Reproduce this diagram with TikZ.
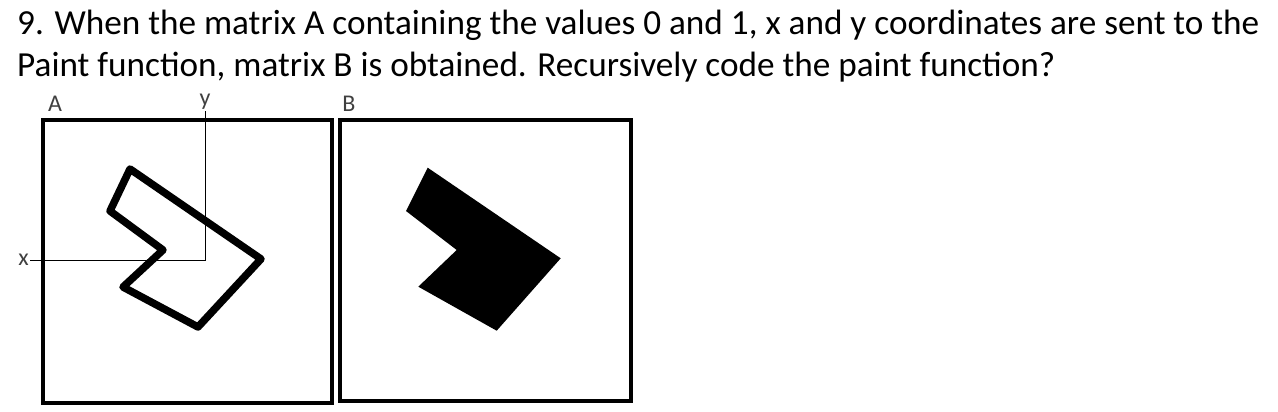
\documentclass[tikz,border=0pt]{standalone}
\usepackage{fontspec}
\setmainfont{Carlito}
\usetikzlibrary{positioning}
\tikzstyle{question} = [draw=none, anchor=base west, inner sep=0pt, font=\fontsize{35.2}{40}\selectfont]
\tikzstyle{tag} = [draw=none, inner sep=1pt, text=black!75, font=\fontsize{24}{26}\selectfont]
\tikzstyle{matrixbox} = [draw, line width=4pt, rectangle, inner sep=0pt]
\tikzstyle{axis} = [line width=0.8pt]

\begin{document}
\begin{tikzpicture}[x=1pt,y=-1pt]
    \useasboundingbox (0,0) rectangle (1278,412);

    \node [question, name = q1] at (17,34.5) {9. When the matrix A containing the values 0 and 1, x and y coordinates are sent to the};
    \node [question, name = q2] at (17,76.5) {Paint function, matrix B is obtained. Recursively code the paint function?};

    \node [matrixbox, minimum width=289pt, minimum height=283pt, name = boxA] at (187.5,261.5) {};
    \node [matrixbox, minimum width=291pt, minimum height=281pt, name = boxB] at (485.5,260.5) {};

    \node [tag, name = labA] at (55,104) {A};
    \node [tag, name = labB] at (349,104) {B};

    % shape in A, outline only
    \draw [line width=7.5pt, line join=round]
        (130,169) -- (261,259) -- (198,327) -- (123,287) -- (163,250) -- (110,211) -- cycle;

    % shape in B, painted
    \fill [line join=round]
        (427.7,167.7) -- (560.7,258.3) -- (496.7,330.7) -- (418.3,286.7) -- (456.7,250) -- (406,211) -- cycle;

    % start point
    \coordinate (org) at (205,260);
    \node [tag, anchor=east, name = labx] at (30,260) {x};
    \node [tag, anchor=south, name = laby] at (205,111) {y};
    \draw [axis] (labx.east) -- (org) -- (laby.south);

\end{tikzpicture}
\end{document}
